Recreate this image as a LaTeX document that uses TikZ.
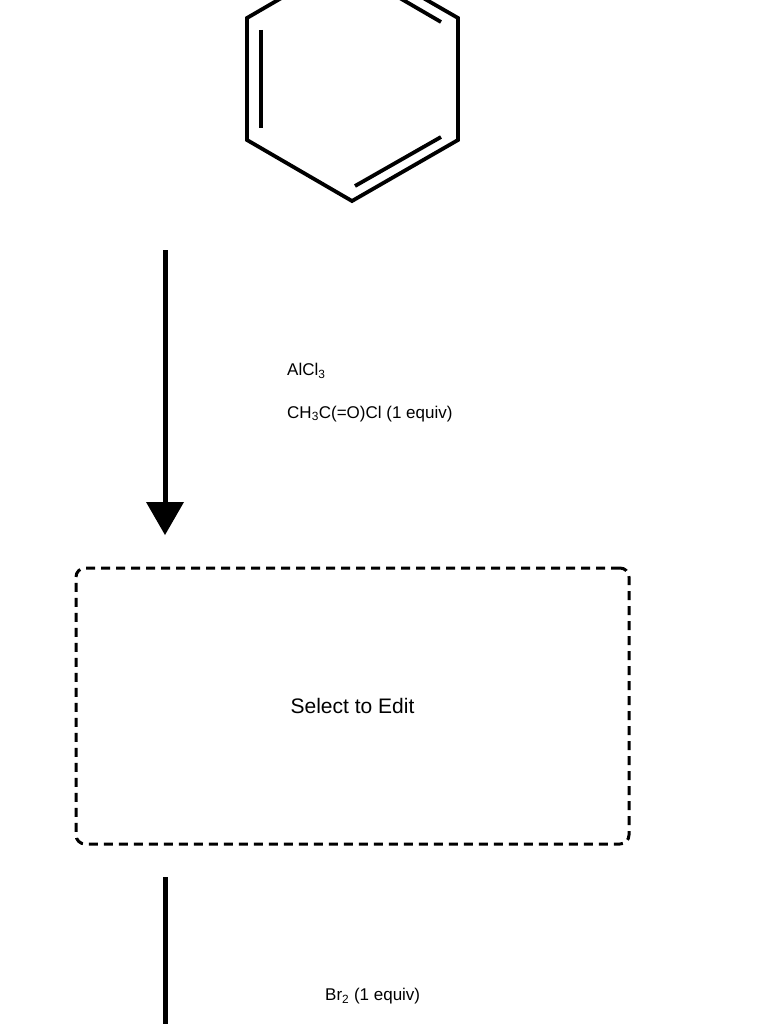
\documentclass[tikz,border=0pt]{standalone}
\usepackage{fontspec}
\setmainfont{Liberation Sans}
\begin{document}
\begin{tikzpicture}[x=1pt,y=-1pt,
  bond/.style={line width=3.8pt,line join=miter},
  lbl/.style={anchor=west,inner sep=0pt,font=\fontsize{17}{20}\selectfont},
  arr/.style={line width=5pt}]
\useasboundingbox (0,0) rectangle (760,1024);
\draw[bond] (352,-43) -- (458,18) -- (458,140) -- (352,201) -- (247,140) -- (247,18) -- cycle;
\draw[bond] (261,30) -- (261,128);
\draw[bond] (355,186) -- (441,137);
\draw[bond] (355,-28) -- (441,22);
\coordinate (a1s) at (165,250);
\coordinate (a1e) at (165,503);
\draw[arr] (a1s) -- (a1e);
\fill (146,502) -- (184,502) -- (165,535) -- cycle;
\node[lbl] (r1) at (287,371) {AlCl\textsubscript{3}};
\node[lbl] (r2) at (287,414) {CH\textsubscript{3}C(=O)Cl (1 equiv)};
\node[draw,line width=3pt,dash pattern=on 9pt off 6pt,rounded corners=9pt,
  minimum width=553pt,minimum height=276pt,font=\fontsize{21}{24}\selectfont] (box) at (352.5,706) {Select to Edit};
\coordinate (a2s) at (165,877);
\coordinate (a2e) at (165,1030);
\draw[arr] (a2s) -- (a2e);
\node[lbl] (r3) at (325,996) {Br\textsubscript{2} (1 equiv)};
\end{tikzpicture}
\end{document}
